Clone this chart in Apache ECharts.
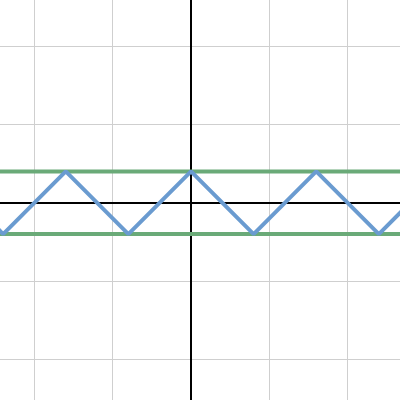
<!DOCTYPE html>
<html><head><meta charset="utf-8">
<script src="https://cdn.jsdelivr.net/npm/echarts@6/dist/echarts.min.js"></script>
<style>html,body{margin:0;padding:0;background:#fff}#c{width:400px;height:400px}</style>
</head><body><div id="c"></div>
<script>
const waveX = [-3.2,-2.4,-1.6,-0.8,0,0.8,1.6,2.4,3.2];
const waveY = [0.4,-0.4,0.4,-0.4,0.4,-0.4,0.4,-0.4,0.4];
const upperY = 0.4, lowerY = -0.4;
const gridX = [-2,-1,1,2];
const gridY = [-2,-1,1,2];
const chart = echarts.init(document.getElementById('c'));
const ax = {type:'value',axisLabel:{show:false},axisTick:{show:false},
  axisLine:{onZero:true,lineStyle:{color:'#000',width:2}},splitLine:{show:false},z:5};
chart.setOption({
  animation:false,
  grid:{left:0,right:0,top:0,bottom:0},
  xAxis:Object.assign({min:-2.44,max:2.67},ax),
  yAxis:Object.assign({min:-2.52,max:2.59},ax),
  series:[
    {type:'line',data:[],symbol:'none',silent:true,
     markLine:{symbol:'none',silent:true,label:{show:false},lineStyle:{color:'#cfcfcf',width:1,type:'solid'},
       data:gridX.map(v=>({xAxis:v})).concat(gridY.map(v=>({yAxis:v})))},z:1},
    {type:'line',data:[[-3.5,upperY],[3.5,upperY]],symbol:'none',lineStyle:{color:'#6aaa78',width:4},z:10},
    {type:'line',data:[[-3.5,lowerY],[3.5,lowerY]],symbol:'none',lineStyle:{color:'#6aaa78',width:4},z:10},
    {type:'line',data:waveX.map((x,i)=>[x,waveY[i]]),symbol:'none',lineStyle:{color:'#6a9bd0',width:4},z:11}
  ]
});
</script></body></html>
